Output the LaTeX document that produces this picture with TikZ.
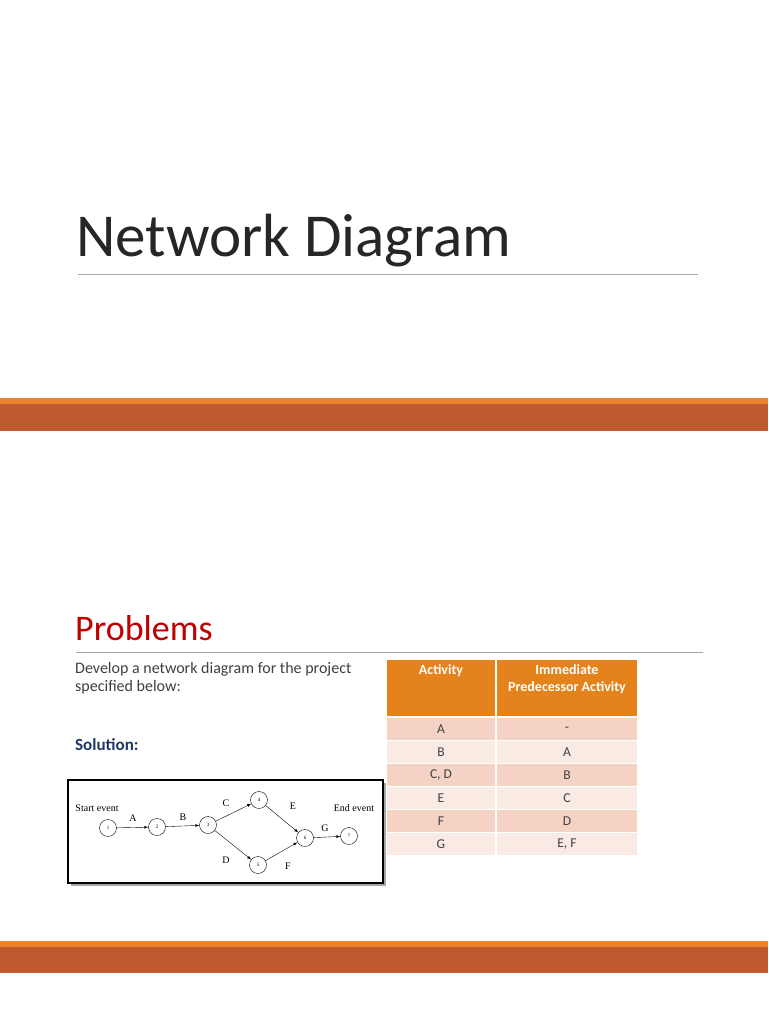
\documentclass[tikz,border=0pt]{standalone}
\usepackage{fontspec}
\setmainfont{Carlito}
\newfontfamily\serifx{Liberation Serif}
\definecolor{rust}{HTML}{BE5A2E}
\definecolor{lorange}{HTML}{E8852A}
\definecolor{hdr}{HTML}{E4831B}
\definecolor{rowa}{HTML}{F4D3C5}
\definecolor{rowb}{HTML}{FAEAE4}
\definecolor{probred}{HTML}{C00000}
\definecolor{txt}{HTML}{404040}
\definecolor{solblue}{HTML}{1F3864}
\begin{document}
\begin{tikzpicture}[x=1pt,y=-1pt,
  ev/.style={circle,draw,thin,minimum size=17pt,inner sep=0pt,font=\serifx\fontsize{5}{6}\selectfont},
  lab/.style={font=\serifx\fontsize{10}{11}\selectfont,inner sep=0pt},
  cell/.style={font=\fontsize{13.5}{15}\selectfont,text=txt},
  arr/.style={-latex,thin}]
\useasboundingbox (0,0) rectangle (768,1024);
\fill[white] (0,0) rectangle (768,1024);
% title
\node[anchor=base west,inner sep=0pt,font=\fontsize{61}{64}\selectfont,text=black!85] (title) at (76,256) {Network Diagram};
\draw[gray!70] (78,274) -- (698,274);
% bars
\fill[lorange] (0,398) rectangle (768,404);
\fill[rust] (0,404) rectangle (768,431);
\fill[lorange] (0,941) rectangle (768,947);
\fill[rust] (0,947) rectangle (768,973);
% problems
\node[anchor=base west,inner sep=0pt,font=\fontsize{36}{40}\selectfont,text=probred] (prob) at (75,640) {Problems};
\draw[gray!70] (76,652) -- (703,652);
\node[anchor=north west,inner sep=0pt,align=left,font=\fontsize{16}{18.5}\selectfont,text=txt] (dev) at (75,662) {Develop a network diagram for the project\\specified below:};
\node[anchor=west,inner sep=0pt,font=\bfseries\fontsize{17}{19}\selectfont,text=solblue] (sol) at (75,745) {Solution:};
% table
\fill[hdr] (387,660) rectangle (495,716);
\fill[hdr] (497,660) rectangle (637,716);
\node[font=\bfseries\fontsize{14}{16}\selectfont,text=white,anchor=north,inner sep=0pt] (h1) at (441,664) {Activity};
\node[font=\bfseries\fontsize{14}{17}\selectfont,text=white,anchor=north,align=center,inner sep=0pt] (h2) at (567,664) {Immediate\\Predecessor Activity};
\foreach \i/\a/\b in {0/A/-,1/B/A,2/{C, D}/B,3/E/C,4/F/D,5/G/{E, F}}{
  \pgfmathsetmacro{\ya}{718+23*\i}
  \pgfmathsetmacro{\yb}{\ya+22}
  \pgfmathtruncatemacro{\odd}{mod(\i,2)}
  \ifnum\odd=0 \def\rc{rowa}\else\def\rc{rowb}\fi
  \fill[\rc] (387,\ya) rectangle (495,\yb);
  \fill[\rc] (497,\ya) rectangle (637,\yb);
  \node[cell] (ca\i) at (441,\ya+11) {\a};
  \node[cell] (cb\i) at (567,\ya+11) {\b};
}
% diagram box
\fill[black!35] (71,783) rectangle (386,886);
\draw[line width=1.8pt,fill=white] (68,780) rectangle (383,883);
\node[ev] (n1) at (108,828) {1};
\node[ev] (n2) at (157,827) {2};
\node[ev] (n3) at (208,825) {3};
\node[ev] (n4) at (259,800) {4};
\node[ev] (n5) at (258,865) {5};
\node[ev] (n6) at (305,838) {6};
\node[ev] (n7) at (349,836) {7};
\draw[arr] (n1) -- (n2);
\draw[arr] (n2) -- (n3);
\draw[arr] (n3) -- (n4);
\draw[arr] (n3) -- (n5);
\draw[arr] (n4) -- (n6);
\draw[arr] (n5) -- (n6);
\draw[arr] (n6) -- (n7);
\node[lab] (ls) at (97,808) {Start event};
\node[lab] (le) at (354,808) {End event};
\node[lab] (la) at (133,818) {A};
\node[lab] (lb) at (183,817) {B};
\node[lab] (lc) at (226,803) {C};
\node[lab] (lE) at (293,806) {E};
\node[lab] (lg) at (325,828) {G};
\node[lab] (ld) at (226,860) {D};
\node[lab] (lf) at (288,866) {F};
\end{tikzpicture}
\end{document}
